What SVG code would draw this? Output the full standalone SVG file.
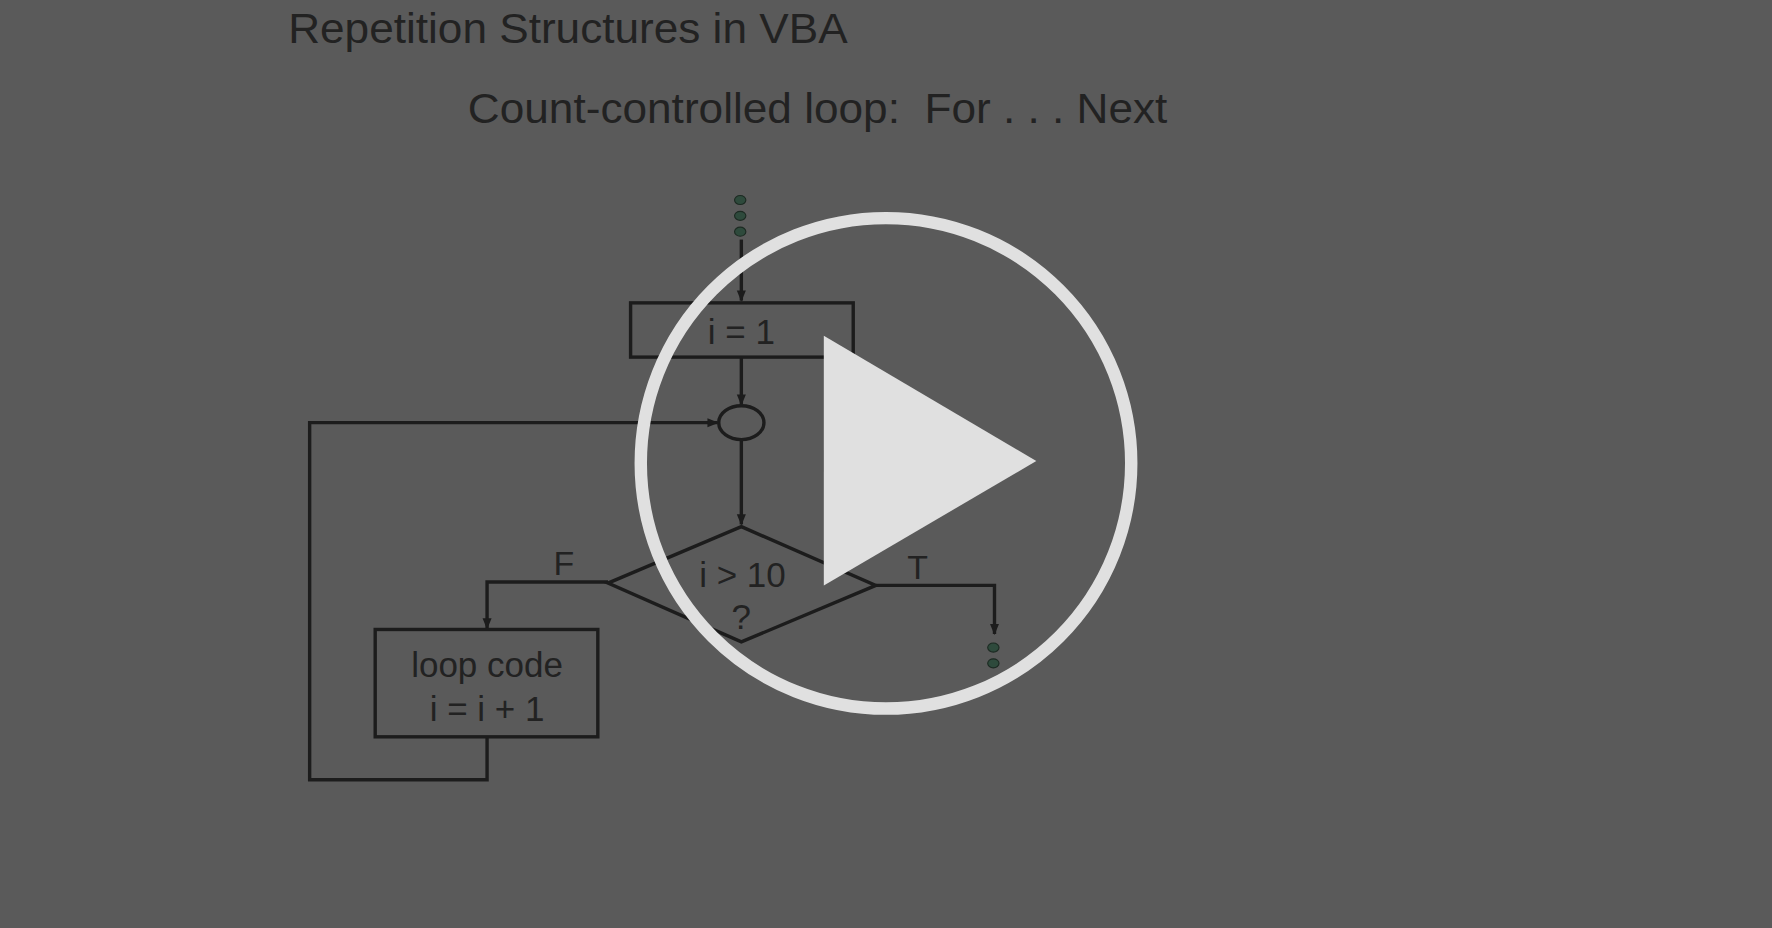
<svg xmlns="http://www.w3.org/2000/svg" width="1772" height="928" viewBox="0 0 1772 928">
<defs>
<marker id="ah" markerWidth="10" markerHeight="10" refX="9" refY="5" orient="auto" markerUnits="userSpaceOnUse"><path d="M0,1 L10,5 L0,9 Z" fill="#1c1c1c"/></marker>
<style>
.ln{fill:none;stroke:#1c1c1c;stroke-width:3}
.t{font-family:"Liberation Sans",Arial,sans-serif;fill:#222;}
.dot{fill:#2e4a3c;stroke:#1c2a22;stroke-width:1}
</style>
</defs>
<rect width="1772" height="928" fill="#5a5a5a"/>
<g transform="scale(1.1301)">
<text class="t" x="255" y="38" font-size="38" textLength="495" lengthAdjust="spacingAndGlyphs">Repetition Structures in VBA</text>
<text class="t" x="414" y="109" font-size="38" xml:space="preserve" textLength="619" lengthAdjust="spacingAndGlyphs">Count-controlled loop:  For . . . Next</text>
<g id="connectors">
<path class="ln" d="M656,212 V266" marker-end="url(#ah)"/>
<path class="ln" d="M656,316 V358" marker-end="url(#ah)"/>
<path class="ln" d="M656,389 V464" marker-end="url(#ah)"/>
<path class="ln" d="M538,515 H431 V556" marker-end="url(#ah)"/>
<path class="ln" d="M775,518 H880 V561" marker-end="url(#ah)"/>
<path class="ln" d="M431,652 V690 H274 V374 H635" marker-end="url(#ah)"/>
<text class="t" x="499" y="509" font-size="30" text-anchor="middle">F</text>
<text class="t" x="812" y="512" font-size="30" text-anchor="middle">T</text>
</g>
<g id="start-dots"><ellipse class="dot" cx="655" cy="177" rx="5" ry="4"/><ellipse class="dot" cx="655" cy="191" rx="5" ry="4"/><ellipse class="dot" cx="655" cy="205" rx="5" ry="4"/></g>
<g id="init"><rect class="ln" x="558" y="268" width="197" height="48"/><text class="t" x="656" y="304" font-size="31" text-anchor="middle">i = 1</text></g>
<g id="junction"><ellipse class="ln" cx="656" cy="374" rx="20" ry="15"/></g>
<g id="decision"><path class="ln" d="M656,466 L775,518 L656,568 L538,516 Z"/><text class="t" x="657" y="519" font-size="31" text-anchor="middle">i &gt; 10</text><text class="t" x="656" y="557" font-size="31" text-anchor="middle">?</text></g>
<g id="end-dots"><ellipse class="dot" cx="879" cy="573" rx="5" ry="4"/><ellipse class="dot" cx="879" cy="587" rx="5" ry="4"/></g>
<g id="body"><rect class="ln" x="332" y="557" width="197" height="95"/><text class="t" x="431" y="599" font-size="31" text-anchor="middle">loop code</text><text class="t" x="431" y="638" font-size="31" text-anchor="middle">i = i + 1</text></g>
<g id="play"><circle cx="784" cy="410" r="217" fill="none" stroke="#e0e0e0" stroke-width="11"/><path d="M729,297 L917,408 L729,518 Z" fill="#e0e0e0"/></g>
</g>
</svg>
